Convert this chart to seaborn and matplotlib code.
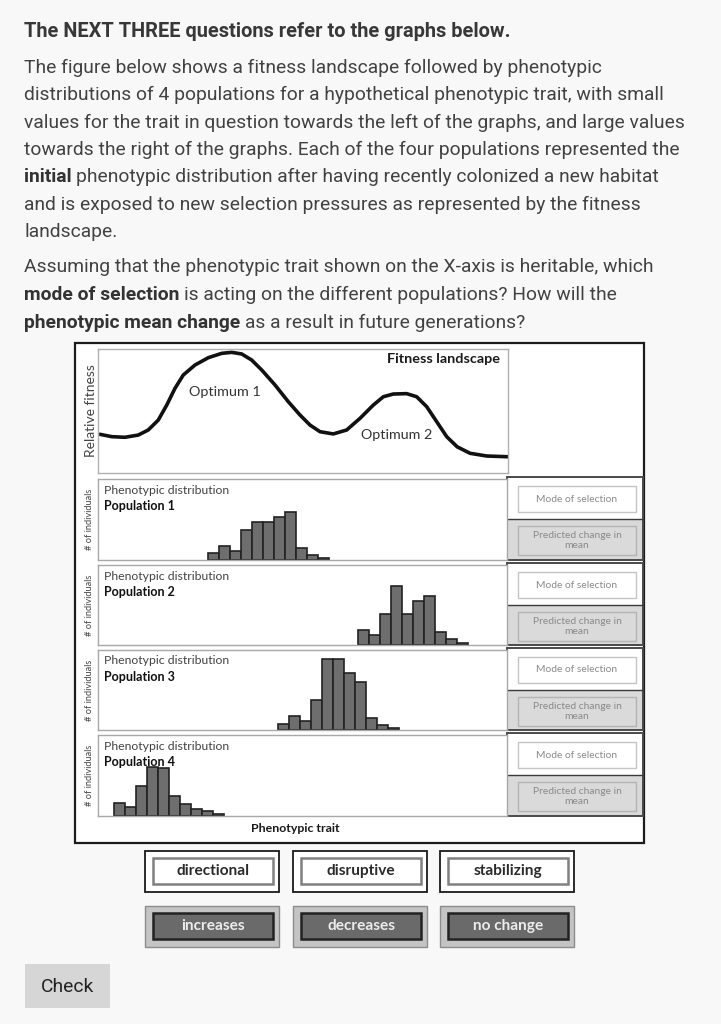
import matplotlib
matplotlib.use("Agg")
import matplotlib.pyplot as plt
from matplotlib.patches import Rectangle
import numpy as np
import pandas as pd
import seaborn as sns

# ------------------------------------------------------------------ data
heading = "The NEXT THREE questions refer to the graphs below."
intro_lines = [
    ("", "The figure below shows a fitness landscape followed by phenotypic"),
    ("", "distributions of 4 populations for a hypothetical phenotypic trait, with small"),
    ("", "values for the trait in question towards the left of the graphs, and large values"),
    ("", "towards the right of the graphs. Each of the four populations represented the"),
    ("initial", "phenotypic distribution after having recently colonized a new habitat"),
    ("", "and is exposed to new selection pressures as represented by the fitness"),
    ("", "landscape."),
]
question_lines = [
    ("", "Assuming that the phenotypic trait shown on the X-axis is heritable, which"),
    ("mode of selection", "is acting on the different populations? How will the"),
    ("phenotypic mean change", "as a result in future generations?"),
]

# fitness landscape (trait in bin units, relative fitness 0-1)
fitness_x = [0.18, 1.25, 2.45, 3.66, 4.57, 5.48, 6.25, 7.0, 7.75, 8.82, 10.03, 11.25,
             12.15, 13.06, 13.97, 14.88, 16.09, 17.3, 18.36, 19.27, 20.18, 21.39, 22.61,
             23.82, 25.03, 25.94, 26.85, 28.06, 28.97, 29.88, 30.79, 31.7, 32.64, 33.82,
             35.34, 37.27]
fitness_y = [0.312, 0.293, 0.288, 0.306, 0.347, 0.427, 0.548, 0.683, 0.790, 0.871, 0.930,
             0.965, 0.973, 0.960, 0.911, 0.831, 0.710, 0.575, 0.468, 0.387, 0.333, 0.315,
             0.347, 0.441, 0.548, 0.615, 0.637, 0.640, 0.615, 0.535, 0.414, 0.293, 0.212,
             0.159, 0.137, 0.131]
optimum_labels = ["Optimum 1", "Optimum 2"]

# phenotypic distributions (bin counts, first bin start in trait units)
pop_names = ["Population 1", "Population 2", "Population 3", "Population 4"]
pop1_counts = [20, 42, 27, 90, 115, 115, 130, 143, 37, 16, 5]
pop2_counts = [44, 29, 93, 176, 93, 131, 146, 38, 17, 7]
pop3_counts = [19, 41, 27, 91, 214, 214, 171, 144, 37, 16, 7]
pop4_counts = [40, 27, 90, 146, 143, 61, 37, 22, 15, 7]
pop_starts = [10.03, 23.67, 16.39, 1.48]

mode_options = ["directional", "disruptive", "stabilizing"]
change_options = ["increases", "decreases", "no change"]

# ------------------------------------------------------------------ setup
sns.set_theme(style="white")
plt.rcParams["font.family"] = ["Roboto", "DejaVu Sans"]

W, H = 721, 1024
PAGE_BG = "#f8f8f8"
fig = plt.figure(figsize=(W / 100, H / 100), dpi=100, facecolor=PAGE_BG)
renderer = fig.canvas.get_renderer()


def px_axes(x0, y0, x1, y1, **kw):
    return fig.add_axes([x0 / W, 1 - y1 / H, (x1 - x0) / W, (y1 - y0) / H], **kw)


def put(x, y, s, size=10, **kw):
    return fig.text(x / W, 1 - y / H, s, fontsize=size, **kw)


def fit(t, target, vertical=False):
    bb = t.get_window_extent(renderer=renderer)
    cur = bb.height if vertical else bb.width
    t.set_fontsize(t.get_fontsize() * target / cur)
    return t.get_fontsize()


def width_of(s, size, **kw):
    t = fig.text(0, 0, s, fontsize=size, **kw)
    w = t.get_window_extent(renderer=renderer).width
    t.remove()
    return w


# UI background layer
ui = px_axes(0, 0, W, H, zorder=-5)
ui.set_xlim(0, W)
ui.set_ylim(H, 0)
ui.axis("off")


def box(x0, y0, x1, y1, fc, ec, lw, z=1):
    ui.add_patch(Rectangle((x0, y0), x1 - x0, y1 - y0, facecolor=fc, edgecolor=ec,
                           linewidth=lw, zorder=z))


# ------------------------------------------------------------------ page text
TXT = "#424242"
ref = put(24, 0, intro_lines[2][1], color=TXT)
body_size = fit(ref, 683 - 24)
ref.remove()
space_w = width_of("a a", body_size) - width_of("aa", body_size)

h = put(24, 37, heading, size=body_size, color="#383838", weight="bold", va="baseline")
fit(h, 512 - 24)


def para_line(y, bold, normal):
    x = 24
    if bold:
        b = put(x, y, bold, size=body_size, color="#333333", weight="bold", va="baseline")
        x += b.get_window_extent(renderer=renderer).width + space_w
    put(x, y, normal, size=body_size, color=TXT, va="baseline")


for i, (b, n) in enumerate(intro_lines):
    para_line(73 + i * 27.3, b, n)
for i, (b, n) in enumerate(question_lines):
    para_line(272.5 + i * 27.5, b, n)

# ------------------------------------------------------------------ chart frame
box(74.5, 343, 644, 843, "white", "#1c1c1c", 1.6, z=0)

CH = ["Lato", "DejaVu Sans"]
PX0, PX1 = 98, 508
XLIM = (0, (PX1 - PX0) / 11.0)

# fitness landscape
axf = px_axes(PX0, 349, PX1, 473)
sns.lineplot(x=fitness_x, y=fitness_y, ax=axf, color="#111111", linewidth=2.6,
             solid_capstyle="round", solid_joinstyle="round")
axf.set_xlim(*XLIM)
axf.set_ylim(0, 1)
axf.set_xticks([]); axf.set_yticks([])
axf.set_xlabel(""); axf.set_ylabel("")
axf.set_facecolor("white")
for s in axf.spines.values():
    s.set_color("#b0b0b0"); s.set_linewidth(1.0)

t = put(500, 359, "Fitness landscape", color="#1a1a1a", weight="bold", ha="right",
        va="center", family=CH)
fit(t, 113)
t = put(189, 392, optimum_labels[0], color="#333333", ha="left", va="center", family=CH)
fit(t, 72)
t = put(361, 435, optimum_labels[1], color="#333333", ha="left", va="center", family=CH)
fit(t, 71)
t = put(91, 411, "Relative fitness", color="#444444", ha="center", va="center",
        rotation=90, family=CH)
fit(t, 93, vertical=True)

# distributions
tops = [479, 565, 650, 735]
bots = [560, 645, 730, 816]
all_counts = [pop1_counts, pop2_counts, pop3_counts, pop4_counts]
lab_size = None
pop_size = None
ind_size = None
for k in range(4):
    y0, y1 = tops[k], bots[k]
    ax = px_axes(PX0, y0, 507, y1)
    counts = all_counts[k]
    edges = [pop_starts[k] + j for j in range(len(counts) + 1)]
    centers = [e + 0.5 for e in edges[:-1]]
    df = pd.DataFrame({"trait": centers, "n": counts})
    sns.histplot(data=df, x="trait", weights="n", bins=edges, ax=ax,
                 color="#6e6e6e", edgecolor="#222222", linewidth=1.2, alpha=1.0)
    ax.set_xlim(XLIM[0], XLIM[1] * (507 - PX0) / (PX1 - PX0))
    ax.set_ylim(0, (y1 - y0) * 3)
    ax.set_xticks([]); ax.set_yticks([])
    ax.set_xlabel(""); ax.set_ylabel("")
    ax.set_facecolor("white")
    for s in ax.spines.values():
        s.set_color("#a8a8a8"); s.set_linewidth(1.0)

    t = put(104, y0 + 11, "Phenotypic distribution", color="#444444", va="center",
            family=CH)
    if lab_size is None:
        lab_size = fit(t, 127)
    else:
        t.set_fontsize(lab_size)
    t = put(104, y0 + 27, pop_names[k], color="#111111", weight="bold", va="center",
            family=CH)
    if pop_size is None:
        pop_size = fit(t, 71)
    else:
        t.set_fontsize(pop_size)
    t = put(89, (y0 + y1) / 2, "# of individuals", color="#444444", ha="center",
            va="center", rotation=90, family=CH)
    if ind_size is None:
        ind_size = fit(t, 62, vertical=True)
    else:
        t.set_fontsize(ind_size)

    # answer slots on the right
    g0, g1 = y0 - 2, y1
    mid = g0 + 41.5
    box(507, mid, 643, g1, "#d9d9d9", "none", 0, z=1)
    box(507, g0, 643, g1, "none", "#4a4a4a", 1.4, z=3)
    ui.plot([507, 643], [mid, mid], color="#3a3a3a", lw=1.0, zorder=3)
    box(518, g0 + 8.5, 636, g0 + 35, "white", "#c4c4c4", 1.0, z=2)
    box(518, g0 + 49, 636, g0 + 77.5, "#dadada", "#b4b4b4", 1.0, z=2)
    t = put(577, g0 + 22, "Mode of selection", color="#8a8a8a", ha="center",
            va="center", family=CH)
    ms = fit(t, 82)
    put(577, g0 + 63.5, "Predicted change in\nmean", size=ms, color="#8a8a8a",
        ha="center", va="center", family=CH, linespacing=1.15)

t = put(295, 828, "Phenotypic trait", color="#1a1a1a", weight="bold", ha="center",
        va="center", family=CH)
fit(t, 89)

# ------------------------------------------------------------------ option buttons
btn_x = [145, 293, 440]
btn_size = None
for i, x0 in enumerate(btn_x):
    box(x0, 851, x0 + 134, 892, "white", "#1a1a1a", 1.3, z=1)
    box(x0 + 8, 858, x0 + 128, 884, "white", "#808080", 1.8, z=2)
    t = put(x0 + 68, 871, mode_options[i], color="#2a2a2a", weight="bold", ha="center",
            va="center", family=CH)
    if btn_size is None:
        btn_size = fit(t, 73)
    else:
        t.set_fontsize(btn_size)
    box(x0, 906, x0 + 134, 947, "#c4c4c4", "#8c8c8c", 1.0, z=1)
    box(x0 + 8, 913, x0 + 128, 939, "#6a6a6a", "#222222", 1.8, z=2)
    put(x0 + 68, 926, change_options[i], size=btn_size, color="#ececec", weight="bold",
        ha="center", va="center", family=CH)

# ------------------------------------------------------------------ check button
box(25, 964, 110, 1008, "#d6d6d6", "none", 0, z=1)
t = put(67.5, 987, "Check", color="#222222", ha="center", va="center")
fit(t, 53)

fig.savefig("out.png", dpi=100, facecolor=PAGE_BG)
